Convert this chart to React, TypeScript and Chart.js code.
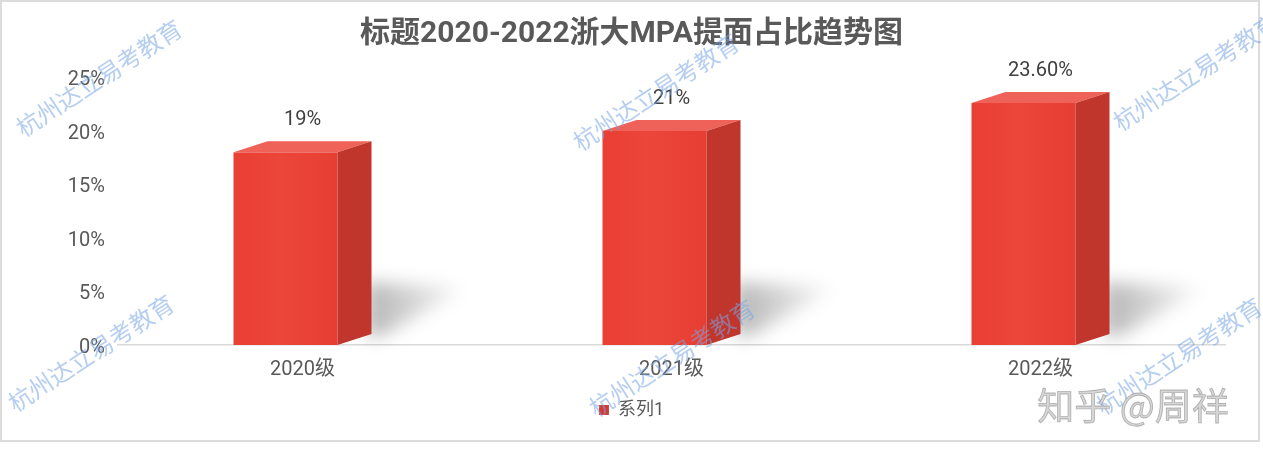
import React, { useEffect, useRef } from 'react';
import { Chart, registerables } from 'chart.js';

Chart.register(...registerables);

// ---- data ----
const TITLE = '标题2020-2022浙大MPA提面占比趋势图';
const categories = ['2020级', '2021级', '2022级'];
const seriesName = '系列1';
const values = [19, 21, 23.6];
const valueLabels = ['19%', '21%', '23.60%'];
const yTicks = [0, 5, 10, 15, 20, 25];
const watermarkText = '杭州达立易考教育';
const creditText = '知乎 @周祥';

// ---- styles ----
const FONT = 'Roboto, "Noto Sans CJK SC", sans-serif';
const CJK = '"Noto Sans CJK SC", sans-serif';
const TEXT = '#595959';
const TOP = '#ee6259';
const SIDE = '#c0352c';
const DEPTH_X = 34;
const DEPTH_Y = 11;
const WM_ANGLE = (-33 * Math.PI) / 180;
const WM_SPOTS: [number, number][] = [
  [99, 78],
  [656, 92],
  [1196, 72],
  [91, 353],
  [672, 358],
  [1179, 356],
];

const bars3d = {
  id: 'bars3d',
  beforeDatasetDraw() {
    return false;
  },
  afterDatasetsDraw(chart: any) {
    const ctx = chart.ctx as CanvasRenderingContext2D;
    const meta = chart.getDatasetMeta(0);
    const els = meta.data.map((el: any) => el.getProps(['x', 'y', 'base', 'width'], true));
    // shadows
    els.forEach((p: any) => {
      const left = p.x - p.width / 2;
      const fr = left + p.width - DEPTH_X;
      const bx = fr + DEPTH_X;
      const by = p.base - DEPTH_Y;
      ctx.save();
      ctx.filter = 'blur(9px)';
      const g = ctx.createLinearGradient(bx, 0, bx + 95, 0);
      g.addColorStop(0, 'rgba(0,0,0,0.28)');
      g.addColorStop(1, 'rgba(0,0,0,0.02)');
      ctx.fillStyle = g;
      ctx.beginPath();
      ctx.moveTo(bx - 6, by - 52);
      ctx.lineTo(bx + 95, by - 46);
      ctx.lineTo(bx + 10, by + 2);
      ctx.lineTo(bx - 6, by + 2);
      ctx.closePath();
      ctx.fill();
      ctx.restore();
    });
    // boxes
    els.forEach((p: any) => {
      const left = p.x - p.width / 2;
      const fr = left + p.width - DEPTH_X;
      const ft = p.y + DEPTH_Y;
      ctx.save();
      const g = ctx.createLinearGradient(left, 0, fr, 0);
      g.addColorStop(0, '#e93f35');
      g.addColorStop(0.45, '#ec4539');
      g.addColorStop(1, '#e63e33');
      ctx.fillStyle = g;
      ctx.fillRect(left, ft, fr - left, p.base - ft);
      ctx.fillStyle = TOP;
      ctx.beginPath();
      ctx.moveTo(left, ft);
      ctx.lineTo(fr, ft);
      ctx.lineTo(fr + DEPTH_X, p.y);
      ctx.lineTo(left + DEPTH_X, p.y);
      ctx.closePath();
      ctx.fill();
      ctx.fillStyle = SIDE;
      ctx.beginPath();
      ctx.moveTo(fr, ft);
      ctx.lineTo(fr + DEPTH_X, p.y);
      ctx.lineTo(fr + DEPTH_X, p.base - DEPTH_Y);
      ctx.lineTo(fr, p.base);
      ctx.closePath();
      ctx.fill();
      ctx.restore();
    });
    ctx.save();
    ctx.font = `20px ${FONT}`;
    ctx.fillStyle = '#404040';
    ctx.textAlign = 'center';
    ctx.textBaseline = 'middle';
    els.forEach((p: any, i: number) => {
      ctx.fillText(valueLabels[i], p.x, p.y - 21);
    });
    ctx.restore();
  },
  afterDraw(chart: any) {
    const ctx = chart.ctx as CanvasRenderingContext2D;
    ctx.save();
    ctx.font = `24px ${CJK}`;
    ctx.fillStyle = 'rgba(120,165,225,0.55)';
    ctx.textAlign = 'center';
    ctx.textBaseline = 'middle';
    WM_SPOTS.forEach(([x, y]) => {
      ctx.save();
      ctx.translate(x, y);
      ctx.rotate(WM_ANGLE);
      ctx.fillText(watermarkText, 0, 0);
      ctx.restore();
    });
    ctx.restore();
    ctx.save();
    ctx.font = `37px ${CJK}`;
    ctx.textAlign = 'center';
    ctx.textBaseline = 'middle';
    ctx.fillStyle = '#d6d6d6';
    ctx.strokeStyle = 'rgba(120,120,120,0.5)';
    ctx.lineWidth = 0.8;
    ctx.fillText(creditText, 1133, 406);
    ctx.strokeText(creditText, 1133, 406);
    ctx.restore();
  },
};

export default function App() {
  const ref = useRef<HTMLCanvasElement | null>(null);
  useEffect(() => {
    if (!ref.current) return;
    const chart = new Chart(ref.current, {
      type: 'bar',
      data: {
        labels: categories,
        datasets: [
          {
            label: seriesName,
            data: values,
            backgroundColor: '#d23b37',
            borderWidth: 0,
            categoryPercentage: 1,
            barPercentage: 0.374,
          },
        ],
      },
      options: {
        animation: false,
        responsive: true,
        maintainAspectRatio: false,
        layout: { padding: { left: 0, right: 0, top: 0, bottom: 27 } },
        plugins: {
          title: {
            display: true,
            text: TITLE,
            color: TEXT,
            font: { size: 30, weight: 'bold', family: FONT, lineHeight: 1.2 },
            padding: { top: 16, bottom: 25 },
          },
          legend: {
            position: 'bottom',
            labels: {
              boxWidth: 10,
              boxHeight: 10,
              color: TEXT,
              font: { size: 18, family: FONT },
              padding: 10,
            },
          },
          tooltip: { enabled: false },
        },
        scales: {
          x: {
            grid: { display: false, drawTicks: false },
            border: { display: true, color: '#d9d9d9', width: 1.5 },
            ticks: { padding: 13, color: TEXT, font: { size: 20, family: FONT } },
            afterFit: (s: any) => {
              s.height = 46;
            },
          },
          y: {
            min: 0,
            max: 25,
            grid: { display: false, drawTicks: false },
            border: { display: false },
            ticks: {
              padding: 13,
              labelOffset: 3,
              color: TEXT,
              font: { size: 20, family: FONT },
              callback: (v: any) => `${v}%`,
            },
            afterBuildTicks: (s: any) => {
              s.ticks = yTicks.map((v) => ({ value: v }));
            },
            afterFit: (s: any) => {
              s.width = 118;
            },
          },
          yRight: {
            position: 'right',
            display: true,
            min: 0,
            max: 25,
            grid: { display: false, drawTicks: false },
            border: { display: false },
            ticks: { display: false },
            afterFit: (s: any) => {
              s.width = 38;
            },
          },
        },
      } as any,
      plugins: [bars3d],
    });
    return () => chart.destroy();
  }, []);

  return (
    <div style={{ position: 'absolute', left: 0, top: 0, width: 1263, height: 456, background: '#fff' }}>
      <div
        style={{
          position: 'absolute',
          left: 0,
          top: 0,
          width: 1260,
          height: 442,
          boxSizing: 'border-box',
          border: '2px solid #dcdcdc',
        }}
      />
      <div style={{ position: 'absolute', left: 0, top: 0, width: 1263, height: 456 }}>
        <canvas ref={ref} />
      </div>
    </div>
  );
}
